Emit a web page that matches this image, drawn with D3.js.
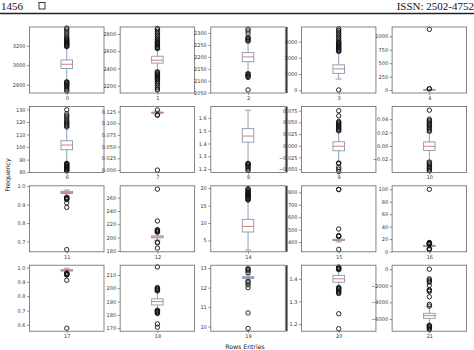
<!DOCTYPE html>
<html><head><meta charset="utf-8">
<script src="https://cdn.jsdelivr.net/npm/d3@7"></script>
<style>html,body{margin:0;padding:0;background:#fff;} svg{display:block;}</style>
</head><body><svg id="c" width="474" height="350"></svg>
<script>
// ---------------- data ----------------
const panelLabels = ["0","1","2","3","4","6","7","8","9","10","11","12","14","15","16","17","18","19","20","21"];

const yLimits = [
  [2715, 3392], [2115, 2881], [2049, 2325], [-170, 3907], [-56, 1174],
  [79.8, 132.4], [-0.005, 0.136], [1.174, 1.69], [-0.057, 0.0842], [-0.0394, 0.059],
  [0.644, 1.002], [178.5, 278], [1.7, 20.7], [321, 853], [-0.5, 105.7],
  [0.556, 1.016], [167.7, 217.3], [9.76, 13.155], [1.169, 1.46], [-7482, 482]
];

const tickLabels = [
  ["2800","3000","3200"],
  ["2200","2400","2600","2800"],
  ["2050","2100","2150","2200","2250","2300"],
  ["0","1000","2000","3000"],
  ["0","250","500","750","1000"],
  ["80","90","100","110","120","130"],
  ["0.000","0.025","0.050","0.075","0.100","0.125"],
  ["1.2","1.3","1.4","1.5","1.6"],
  ["\u22120.050","\u22120.025","0.000","0.025","0.050","0.075"],
  ["\u22120.02","0.00","0.02","0.04"],
  ["0.7","0.8","0.9","1.0"],
  ["180","200","220","240","260"],
  ["5","10","15","20"],
  ["400","500","600","700","800"],
  ["0","20","40","60","80","100"],
  ["0.6","0.7","0.8","0.9","1.0"],
  ["170","180","190","200","210"],
  ["10","11","12","13"],
  ["1.2","1.3","1.4"],
  ["\u22126000","\u22124000","\u22122000","0"]
];

const q1s          = [2966, 2462, 2180, 1043, 2,    97.9, 0.1215, 1.41,  -0.0107, -0.0066, 0.960, 199.5, 7.4,  412, 8,   0.975, 187.4, 12.48, 1.385, -5928];
const medians      = [3010, 2495, 2200, 1320, 5,    101.6,0.1225, 1.458, -0.001,  -0.0005, 0.966, 201,   9.0,  416, 9,   0.980, 190,   12.52, 1.400, -5602];
const q3s          = [3054, 2542, 2218, 1568, 8,    105,  0.1238, 1.516, 0.0085,  0.006,   0.972, 202.5, 11.05,422, 10,  0.985, 192,   12.56, 1.415, -5325];
const whiskerLows  = [2840, 2380, 2135, 690,  0,    88,   0.1195, 1.25,  -0.035,  -0.022,  0.945, 196,   2.2,  400, 5.5, 0.962, 183.8, 12.40, 1.365, -6700];
const whiskerHighs = [3180, 2620, 2262, 2330, 15,   115.5,0.126,  1.66,  0.030,   0.020,   0.979, 207,   16.4, 435, 13,  0.995, 197.3, 12.65, 1.437, -4518];

const outliers = [
  [3190,3197,3204,3211,3218,3225,3232,3240,3248,3256,3265,3275,3290,3310,3330,3350,3370,3382,2830,2823,2815,2808,2800,2790,2780,2765,2750,2735],
  [2630,2640,2650,2660,2670,2680,2690,2700,2710,2720,2735,2750,2770,2790,2810,2830,2850,2865,2360,2350,2340,2330,2320,2310,2300,2290,2280,2270,2255,2240,2220,2200,2180,2160,2150],
  [2266,2270,2274,2278,2282,2297,2308,2316,2130,2126,2122,2118,2114,2062],
  [2400,2450,2500,2550,2600,2650,2700,2750,2800,2850,2900,2950,3000,3100,3200,3300,3400,3500,3600,3700,3800,20],
  [1130,20,25],
  [116,117,118,119,120,121,122.5,124,125,126.5,129.7,87,86.5,86,85.5,85,84.5,84,83.5,83,82.5,82,81.5,81],
  [0.1285,0.118,0.1172,0.0],
  [1.245,1.24,1.235,1.23,1.22,1.21,1.2,1.19],
  [0.032,0.034,0.036,0.038,0.040,0.042,0.044,0.046,0.048,0.050,0.052,0.064,0.075,-0.037,-0.038,-0.046,-0.050,-0.055],
  [0.022,0.024,0.026,0.028,0.030,0.032,0.034,0.036,0.038,0.040,0.0534,-0.024,-0.026,-0.028,-0.030,-0.032,-0.034,-0.036,-0.037],
  [0.940,0.937,0.934,0.930,0.927,0.909,0.885,0.656],
  [208,209,210,211,212,225,273,193,192,184],
  [16.6,16.8,17.0,17.2,17.4,17.6,17.8,18.0,18.2,18.4,18.6,18.8,19.0,19.3,19.6,19.9],
  [445,448,452,505,340,825,822],
  [100,11.5,12,12.5,13.5,14,14.5,4.5,4,3],
  [0.962,0.958,0.955,0.952,0.950,0.948,0.911,0.577],
  [198,198.5,199,199.5,200,200.5,216,183.5,183,182.5,182,181.5,181,173.2,170.7],
  [13.0,12.93,12.87,12.78,12.32,12.25,12.14,12.0,10.7,9.9],
  [1.440,1.443,1.446,1.449,1.452,1.362,1.358,1.354,1.350,1.346,1.342,1.338,1.335,1.246,1.18],
  [0,-1170,-1300,-1450,-1570,-1960,-2480,-2560,-2690,-3330,-4240,-4450,-6760,-6850,-6950,-7050,-7150,-7300]
];

const headerLeft = "1456";
const headerRight = "ISSN: 2502-4752";
const yTitle = "Frequency";
const xTitle = "Rows Entries";

// ---------------- drawing ----------------
const svg = d3.select("#c");
const W = 474, H = 350;
svg.append("rect").attr("width", W).attr("height", H).attr("fill", "#fff");

// page header
svg.append("text").attr("x", 1).attr("y", 9.5)
  .attr("font-family", "Liberation Serif, Times New Roman, serif").attr("font-size", 11)
  .attr("fill", "#111").text(headerLeft);
svg.append("rect").attr("x", 39).attr("y", 2.5).attr("width", 6).attr("height", 6.5)
  .attr("fill", "none").attr("stroke", "#222").attr("stroke-width", 0.9);
svg.append("text").attr("x", 474).attr("y", 9.5).attr("text-anchor", "end")
  .attr("font-family", "Liberation Serif, Times New Roman, serif").attr("font-size", 11)
  .attr("fill", "#111").text(headerRight);
svg.append("line").attr("x1", 0).attr("x2", W).attr("y1", 13.5).attr("y2", 13.5)
  .attr("stroke", "#222").attr("stroke-width", 1.3);

const panelW = 74.5, panelH = 66;
const colLeft = c => 29.5 + c * 90.65;
const rowTop = r => 27 + r * 79.4;
const boxW = 11.5, capW = 6;
const boxColor = "#8596b0", medColor = "#d4736c";

panelLabels.forEach((lab, i) => {
  const r = Math.floor(i / 5), c = i % 5;
  const g = svg.append("g").attr("transform", `translate(${colLeft(c)},${rowTop(r)})`);
  const y = d3.scaleLinear().domain(yLimits[i]).range([panelH, 0]);
  const x = d3.scalePoint().domain([lab]).range([0, panelW]).padding(0.5);
  const cx = x(lab);

  // y axis
  const tv = tickLabels[i].map(s => +s.replace("\u2212", "-"));
  const ya = g.append("g").call(d3.axisLeft(y).tickValues(tv)
      .tickFormat((d, k) => tickLabels[i][k]).tickSize(2.5).tickPadding(1.5));
  ya.select(".domain").remove();
  ya.selectAll("line").attr("stroke", "#444").attr("stroke-width", 0.6);
  ya.selectAll("text").attr("font-family", "DejaVu Sans, sans-serif").attr("font-size", 5).attr("fill", "#333");

  // x axis
  const xa = g.append("g").attr("transform", `translate(0,${panelH})`)
    .call(d3.axisBottom(x).tickSize(2).tickPadding(1.5));
  xa.select(".domain").remove();
  xa.selectAll("line").attr("stroke", "#444").attr("stroke-width", 0.6);
  xa.selectAll("text").attr("font-family", "DejaVu Sans, sans-serif").attr("font-size", 5).attr("fill", "#333");

  // whiskers
  g.append("line").attr("x1", cx).attr("x2", cx).attr("y1", y(q3s[i])).attr("y2", y(whiskerHighs[i]))
    .attr("stroke", boxColor).attr("stroke-width", 0.9);
  g.append("line").attr("x1", cx).attr("x2", cx).attr("y1", y(q1s[i])).attr("y2", y(whiskerLows[i]))
    .attr("stroke", boxColor).attr("stroke-width", 0.9);
  [whiskerHighs[i], whiskerLows[i]].forEach(v => {
    g.append("line").attr("x1", cx - capW / 2).attr("x2", cx + capW / 2).attr("y1", y(v)).attr("y2", y(v))
      .attr("stroke", boxColor).attr("stroke-width", 0.9);
  });
  // box
  g.append("rect").attr("x", cx - boxW / 2).attr("width", boxW)
    .attr("y", y(q3s[i])).attr("height", Math.max(0.6, y(q1s[i]) - y(q3s[i])))
    .attr("fill", "none").attr("stroke", boxColor).attr("stroke-width", 0.9);
  g.append("line").attr("x1", cx - boxW / 2).attr("x2", cx + boxW / 2)
    .attr("y1", y(medians[i])).attr("y2", y(medians[i]))
    .attr("stroke", medColor).attr("stroke-width", 0.9);

  // outliers
  g.selectAll("circle.o").data(outliers[i]).join("circle").attr("class", "o")
    .attr("cx", cx).attr("cy", d => y(d)).attr("r", 2.2)
    .attr("fill", "none").attr("stroke", "#111").attr("stroke-width", 0.9);

  // frame
  g.append("rect").attr("width", panelW).attr("height", panelH)
    .attr("fill", "none").attr("stroke", "#666").attr("stroke-width", 0.8);

  if (c === 2) {
    g.append("line").attr("x1", panelW + 1.5).attr("x2", panelW + 1.5).attr("y1", 0).attr("y2", panelH)
      .attr("stroke", "#222").attr("stroke-width", 1.4);
  }
});

// axis titles
svg.append("text").attr("transform", "translate(10,175) rotate(-90)").attr("text-anchor", "middle")
  .attr("font-family", "DejaVu Sans, sans-serif").attr("font-size", 6.5).attr("fill", "#222").text(yTitle);
svg.append("text").attr("x", 245).attr("y", 349).attr("text-anchor", "middle")
  .attr("font-family", "DejaVu Sans, sans-serif").attr("font-size", 6.2).attr("fill", "#222").text(xTitle);
</script></body></html>
